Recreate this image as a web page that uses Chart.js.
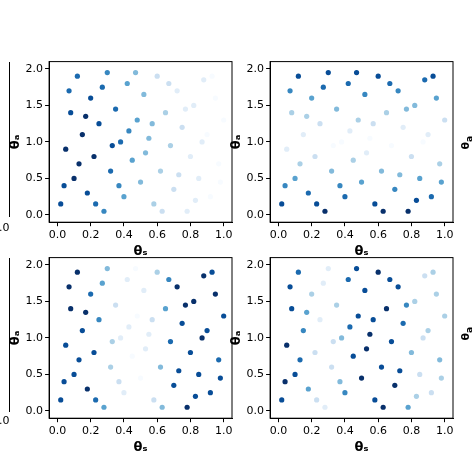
<!DOCTYPE html>
<html>
<head>
<meta charset="utf-8">
<script src="https://cdn.jsdelivr.net/npm/chart.js@4/dist/chart.umd.min.js"></script>
<style>
  body { margin: 0; background: #fff; font-family: "DejaVu Sans", sans-serif; }
  .panel { position: absolute; width: 232px; height: 206px; }
  .txt { position: absolute; font-size: 11px; color: #000; }
</style>
</head>
<body>
<div class="panel" style="left:8px;top:53px"><canvas id="c0"></canvas></div>
<div class="panel" style="left:229px;top:53px"><canvas id="c1"></canvas></div>
<div class="panel" style="left:8px;top:249px"><canvas id="c2"></canvas></div>
<div class="panel" style="left:229px;top:249px"><canvas id="c3"></canvas></div>
<div style="position:absolute;left:9px;top:62px;width:1px;height:155px;background:#000"></div>
<div style="position:absolute;left:9px;top:258px;width:1px;height:154px;background:#000"></div>
<div class="txt" style="left:-8px;top:221px">1.0</div>
<div class="txt" style="left:-8px;top:414px">1.0</div>
<div class="txt" style="left:460px;top:135px;transform:rotate(-90deg);font-weight:bold">θ<sub>a</sub></div>
<div class="txt" style="left:460px;top:326px;transform:rotate(-90deg);font-weight:bold">θ<sub>a</sub></div>
<script>
const xTicks = [0.0, 0.2, 0.4, 0.6, 0.8, 1.0];
const yTicks = [0.0, 0.5, 1.0, 1.5, 2.0];

const xs = [.02,.05,.08,.1,.12,.15,.18,.2,.22,.25,.28,.3,.32,.35,.38,.4,.42,.45,.48,.5,
  .52,.55,.58,.6,.62,.65,.68,.7,.72,.75,.78,.8,.82,.85,.88,.9,.92,.95,.97,1.0,
  .04,.07,.13,.17,.23,.27,.33,.37,.43,.47,.53,.57,.63,.67,.73,.77,.83,.87,.93,.98];
const ys = [.15,.9,1.4,.5,1.9,1.1,.3,1.6,.8,1.25,.05,1.95,.6,1.45,1.0,.25,1.8,.75,1.3,.45,
  1.65,1.05,.15,1.9,.6,1.4,.95,.35,1.7,1.2,.05,.8,1.5,.5,1.85,1.1,.25,1.6,.7,1.3,
  .4,1.7,.7,1.35,.15,1.75,.95,.4,1.15,1.95,.85,1.25,.05,1.8,.55,1.45,.2,1.0,1.9,.45];

const shadeA = [8,9,8,9,7,9,8,8,9,8,6,6,7,7,7,5,5,5,5,4,4,4,3,2,3,3,3,2,1,2,1,1,1,1,1,0,0,0,0,0,
  8,7,9,9,7,7,8,6,6,4,4,4,2,2,2,1,1,1,0,0];
const shadeB = [8,1,3,5,8,1,7,5,2,2,9,8,4,4,0,7,7,3,3,5,6,0,8,8,4,3,0,6,6,1,9,2,4,5,7,1,7,5,3,2,
  6,6,3,3,8,7,0,6,1,8,1,2,9,7,4,4,8,0,8,5];
const shadeC = [8,8,9,8,9,8,9,7,8,6,5,4,3,2,1,1,1,0,0,0,1,1,2,3,4,5,7,8,9,8,9,8,9,8,9,8,8,9,7,8,
  8,9,8,9,7,5,3,2,1,0,1,2,4,6,8,9,8,9,8,8];
const shadeD = [8,9,8,8,7,6,5,3,2,1,1,1,2,3,4,6,7,8,8,9,8,9,8,9,8,9,8,9,8,7,5,4,3,2,2,3,2,3,4,3,
  9,8,7,5,2,1,2,4,7,8,9,8,9,8,8,6,3,2,3,3];

const blues = [[247,251,255],[222,235,247],[198,219,239],[158,202,225],[107,174,214],
  [66,146,198],[33,113,181],[8,81,156],[8,48,107]];
function blue(s) {
  const t = s / 9 * 8, i = Math.min(7, Math.floor(t)), f = t - i;
  const a = blues[i], b = blues[i + 1];
  return `rgb(${a.map((v, k) => Math.round(v + (b[k] - v) * f)).join(",")})`;
}

const frame = {
  id: "frame",
  afterDraw(chart) {
    const { ctx, chartArea: a } = chart;
    ctx.save();
    ctx.strokeStyle = "#000";
    ctx.lineWidth = 1;
    ctx.strokeRect(a.left, a.top, a.right - a.left, a.bottom - a.top);
    ctx.restore();
  }
};

function makeChart(id, shade) {
  const font = { family: "DejaVu Sans", size: 11 };
  new Chart(document.getElementById(id), {
    type: "scatter",
    data: {
      datasets: [{
        data: xs.map((x, i) => ({ x, y: ys[i] })),
        pointBackgroundColor: shade.map(blue),
        pointBorderWidth: 0,
        pointRadius: 2.6
      }]
    },
    options: {
      animation: false,
      responsive: true,
      maintainAspectRatio: false,
      plugins: { legend: { display: false }, tooltip: { enabled: false } },
      layout: { padding: { right: 8, top: 4 } },
      scales: {
        x: {
          min: -0.05, max: 1.05,
          afterBuildTicks: s => { s.ticks = xTicks.map(v => ({ value: v })); },
          ticks: { font, color: "#000", maxRotation: 0, callback: v => v.toFixed(1), padding: 2 },
          grid: { drawOnChartArea: false, tickLength: 4, color: "#000" },
          border: { color: "#000" },
          title: { display: true, text: "θₛ", font: { family: "DejaVu Sans", size: 13, weight: "bold" }, color: "#000", padding: 0 }
        },
        y: {
          min: -0.1, max: 2.1,
          afterBuildTicks: s => { s.ticks = yTicks.map(v => ({ value: v })); },
          ticks: { font, color: "#000", callback: v => v.toFixed(1), padding: 2 },
          grid: { drawOnChartArea: false, tickLength: 4, color: "#000" },
          border: { color: "#000" },
          title: { display: true, text: "θₐ", font: { family: "DejaVu Sans", size: 13, weight: "bold" }, color: "#000", padding: 0 }
        }
      }
    },
    plugins: [frame]
  });
}

makeChart("c0", shadeA);
makeChart("c1", shadeB);
makeChart("c2", shadeC);
makeChart("c3", shadeD);
</script>
</body>
</html>
